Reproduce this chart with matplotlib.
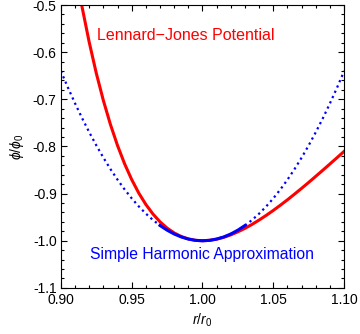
import numpy as np
import matplotlib
matplotlib.use("Agg")
import matplotlib.pyplot as plt
from matplotlib.ticker import MultipleLocator, FormatStrFormatter

# r/r0 sample positions
r = [0.900, 0.905, 0.910, 0.915, 0.920, 0.925, 0.930, 0.935, 0.940, 0.945,
     0.950, 0.955, 0.960, 0.965, 0.970, 0.975, 0.980, 0.985, 0.990, 0.995,
     1.000, 1.005, 1.010, 1.015, 1.020, 1.025, 1.030, 1.035, 1.040, 1.045,
     1.050, 1.055, 1.060, 1.065, 1.070, 1.075, 1.080, 1.085, 1.090, 1.095,
     1.100]

# Lennard-Jones potential, phi/phi0
lj = [-0.2226, -0.3275, -0.4209, -0.5044, -0.5785, -0.6443, -0.7023, -0.7533,
      -0.7979, -0.8367, -0.8701, -0.8988, -0.9230, -0.9432, -0.9598, -0.9731,
      -0.9834, -0.9910, -0.9961, -0.9991, -1.0000, -0.9991, -0.9966, -0.9927,
      -0.9875, -0.9810, -0.9736, -0.9652, -0.9560, -0.9461, -0.9356, -0.9245,
      -0.9130, -0.9010, -0.8887, -0.8761, -0.8632, -0.8502, -0.8370, -0.8237,
      -0.8103]

# simple harmonic approximation
sho = [-0.6400, -0.6751, -0.7084, -0.7399, -0.7696, -0.7975, -0.8236, -0.8479,
       -0.8704, -0.8911, -0.9100, -0.9271, -0.9424, -0.9559, -0.9676, -0.9775,
       -0.9856, -0.9919, -0.9964, -0.9991, -1.0000, -0.9991, -0.9964, -0.9919,
       -0.9856, -0.9775, -0.9676, -0.9559, -0.9424, -0.9271, -0.9100, -0.8911,
       -0.8704, -0.8479, -0.8236, -0.7975, -0.7696, -0.7399, -0.7084, -0.6751,
       -0.6400]

# range where the harmonic curve is drawn solid
solid_lo, solid_hi = 0.97, 1.03

plt.rcParams['font.family'] = 'Liberation Sans'
plt.rcParams['mathtext.fontset'] = 'custom'
plt.rcParams['mathtext.rm'] = 'Liberation Sans'
plt.rcParams['mathtext.it'] = 'Liberation Sans:italic'

fig = plt.figure(figsize=(3.6, 3.34), dpi=100)
ax = fig.add_axes([0.169, 0.138, 0.787, 0.847])

ax.plot(r, sho, color='blue', lw=1.6, ls=(0, (1, 1.6)))
ax.plot(r, lj, color='red', lw=2.2)
r_arr = np.array(r)
mask = (r_arr >= solid_lo - 1e-9) & (r_arr <= solid_hi + 1e-9)
ax.plot(r_arr[mask], np.array(sho)[mask], color='blue', lw=2.2)

ax.text(0.988, -0.565, 'Lennard\u2212Jones Potential', color='red',
        fontsize=11.5, ha='center', va='center')
ax.text(1.0, -1.030, 'Simple Harmonic Approximation', color='blue',
        fontsize=11.3, ha='center', va='center')

ax.set_xlim(0.9, 1.1)
ax.set_ylim(-1.1, -0.5)
ax.xaxis.set_major_locator(MultipleLocator(0.05))
ax.xaxis.set_minor_locator(MultipleLocator(0.01))
ax.yaxis.set_major_locator(MultipleLocator(0.1))
ax.yaxis.set_minor_locator(MultipleLocator(0.02))
ax.xaxis.set_major_formatter(FormatStrFormatter('%.2f'))
ax.yaxis.set_major_formatter(FormatStrFormatter('%.1f'))
ax.tick_params(which='both', direction='in', top=True, right=True,
               labelsize=10, width=0.8, colors='black')
ax.tick_params(which='major', length=4.5, pad=3)
ax.tick_params(axis='x', which='major', pad=4)
ax.tick_params(which='minor', length=2.2)
for s in ax.spines.values():
    s.set_linewidth(0.8)

ax.set_xlabel(r'$r/r_0$', fontsize=10, labelpad=3)
ax.set_ylabel(r'$\phi/\phi_0$', fontsize=10, labelpad=5)

fig.savefig('out.png', dpi=100)
